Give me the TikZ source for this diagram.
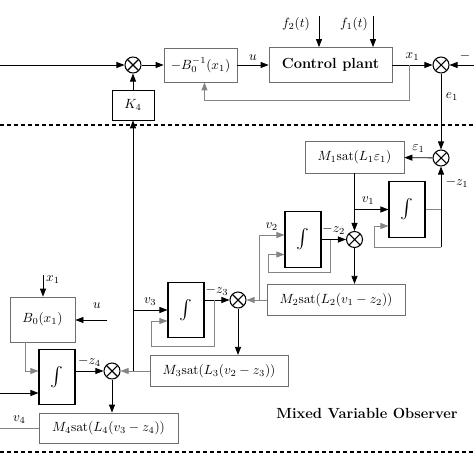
\documentclass[tikz,border=0pt]{standalone}
\usepackage{xcolor}
\usepackage{tikz}
\usetikzlibrary{arrows.meta, calc, positioning}
\usepackage{amsmath}
\definecolor{obs-gray}{HTML}{6E6E6E}
\definecolor{obs-line}{HTML}{858585}

\begin{document}
\begin{tikzpicture}[x=0.75pt, y=-0.75pt,
    sig/.style={-{Triangle[length=6pt,width=4.5pt]}, semithick},
    wire/.style={semithick},
    fbline/.style={semithick, draw=obs-line},
    sum/.style={circle, draw, thick, minimum size=12pt, inner sep=0pt, fill=white,
        path picture={\draw[thick] (path picture bounding box.south west) -- (path picture bounding box.north east)
            (path picture bounding box.north west) -- (path picture bounding box.south east);}},
    intbox/.style={draw, thick, minimum width=27pt, minimum height=41.5pt, inner sep=0pt, font=\Large},
    gbox/.style={draw=obs-gray, semithick, inner sep=2pt},
    satbox/.style={gbox, minimum width=103.5pt, minimum height=23.5pt},
    sepline/.style={line width=0.9pt, dash pattern=on 3pt off 2.25pt},
    boldtext/.style={font=\fontsize{11}{13}\selectfont\bfseries}
    ]
    \useasboundingbox (0,0) rectangle (474,474);

    % control loop
    \node[sum] (s1) at (133,65) {};
    \node[gbox, minimum width=54.75pt, minimum height=25.5pt] (binv) at (200.5,65) {$-B_0^{-1}(x_1)$};
    \node[gbox, boldtext, minimum width=92.25pt, minimum height=26.25pt] (plant) at (330.5,65) {Control plant};
    \node[sum] (s2) at (441,65) {};
    \node[draw, semithick, minimum width=31.5pt, minimum height=22.5pt] (k4) at (133,105) {$K_4$};

    % observer blocks
    \node[sum] (s3) at (441,158) {};
    \node[gbox, minimum width=74.25pt, minimum height=24pt] (m1) at (354.5,157) {$M_1\mathrm{sat}(L_1\varepsilon_1)$};
    \node[intbox] (int1) at (407,209.5) {$\int$};
    \node[sum] (sz2) at (354.5,239.5) {};
    \node[intbox] (int2) at (303,239.5) {$\int$};
    \node[satbox] (m2) at (336,300) {$M_2\mathrm{sat}(L_2(v_1-z_2))$};
    \node[sum] (sz3) at (238,300) {};
    \node[intbox] (int3) at (186,310) {$\int$};
    \node[satbox] (m3) at (219,371) {$M_3\mathrm{sat}(L_3(v_2-z_3))$};
    \node[sum] (sz4) at (112,371) {};
    \node[intbox] (int4) at (57,377) {$\int$};
    \node[gbox, minimum width=48.75pt, minimum height=33.75pt] (b0) at (42.5,319.5) {$B_0(x_1)$};
    \node[satbox, minimum width=104.25pt, minimum height=22.5pt] (m4) at (108.5,428) {$M_4\mathrm{sat}(L_4(v_3-z_4))$};
    \node[boldtext] (obs) at (367,413) {Mixed Variable Observer};

    % separators
    \coordinate (dl1) at (0,125);
    \coordinate (dr1) at (474,125);
    \coordinate (dl2) at (0,452);
    \coordinate (dr2) at (474,452);
    \draw[sepline] (dl1) -- (dr1);
    \draw[sepline] (dl2) -- (dr2);

    % plant side
    \coordinate (ref) at (0,65);
    \draw[sig] (ref) -- (s1);
    \draw[sig] (s1) -- (binv);
    \draw[sig] (binv) -- node[above] (ulbl) {$u$} (plant);
    \coordinate (f2top) at (319,16);
    \coordinate (f1top) at (373,16);
    \draw[sig] (f2top) -- (f2top |- plant.north);
    \draw[sig] (f1top) -- (f1top |- plant.north);
    \node (f2lbl) at (296,24) {$f_2(t)$};
    \node (f1lbl) at (354,24) {$f_1(t)$};
    \draw[sig] (plant) -- node[above] (x1lbl) {$x_1$} (s2);
    \coordinate (x1tap) at (409,65);
    \draw[sig, fbline] (x1tap) -- ++(0,35) -| ($(binv.south)+(4,0)$);
    \coordinate (xd) at (474,65);
    \draw[sig] (xd) -- (s2);
    \node (xdlbl) at (465,56) {$-$};
    \draw[sig] (k4) -- (s1);

    % first stage
    \draw[sig] (s2) -- node[right, pos=0.3] (e1lbl) {$e_1$} (s3);
    \draw[sig] (s3) -- node[above] (eps1lbl) {$\varepsilon_1$} (m1);
    \draw[sig] (m1) -- (sz2);
    \coordinate (v1tap) at (354.5,209.5);
    \draw[sig] (v1tap) -- node[above, pos=0.4] (v1lbl) {$v_1$} (int1.west |- v1tap);
    \coordinate (z1tap) at (441,247);
    \draw[wire, draw=obs-line] (int1.east) -- (int1.east -| z1tap);
    \draw[sig] (z1tap) -- node[right, pos=0.8] (z1lbl) {$-z_1$} (s3);
    \draw[sig, fbline] (z1tap) -- ++(-67,0) |- (int1.west |- 0,226);

    % second stage
    \draw[sig] (int2) -- node[above] (z2lbl) {$-z_2$} (sz2);
    \coordinate (z2tap) at (330,239.5);
    \draw[sig, fbline] (z2tap) |- ++(-62,33) |- (int2.west |- 0,254.5);
    \draw[sig] (sz2) -- (sz2 |- m2.north);
    \draw[sig, fbline] (m2) -- (sz3);
    \coordinate (v2tap) at (259,300);
    \draw[sig, fbline] (v2tap) |- node[above, pos=0.75] (v2lbl) {$v_2$} (int2.west |- 0,235);

    % third stage
    \draw[sig] (int3.east |- sz3) -- node[above] (z3lbl) {$-z_3$} (sz3);
    \coordinate (z3tap) at (214,300);
    \draw[sig, fbline] (z3tap) |- ++(-63,46) |- (int3.west |- 0,321);
    \coordinate (v3tap) at (133,310);
    \draw[sig] (v3tap) -- node[above] (v3lbl) {$v_3$} (int3.west |- v3tap);
    \draw[sig] (sz3) -- (sz3 |- m3.north);
    \draw[sig, fbline] (m3) -- (sz4);
    \coordinate (v3base) at (133,371);
    \draw[sig] (v3base) -- (k4);

    % fourth stage
    \draw[sig] (int4.east |- sz4) -- node[above] (z4lbl) {$-z_4$} (sz4);
    \draw[sig] (sz4) -- (sz4 |- m4.north);
    \coordinate (x1in) at (43,275);
    \draw[sig] (x1in) -- (x1in |- b0.north);
    \node (x1blbl) at (53,280) {$x_1$};
    \coordinate (uin) at (107,320);
    \draw[sig] (uin) -- (b0.east |- uin);
    \node (ublbl) at (97,306) {$u$};
    \draw[sig, fbline] (b0.south -| 25,0) |- (int4.west |- sz4);
    \coordinate (v4in) at (0,393);
    \draw[sig] (v4in) -- (int4.west |- v4in);
    \coordinate (v4out) at (0,428);
    \draw[fbline] (m4) -- node[above] (v4lbl) {$v_4$} (v4out);
\end{tikzpicture}
\end{document}
